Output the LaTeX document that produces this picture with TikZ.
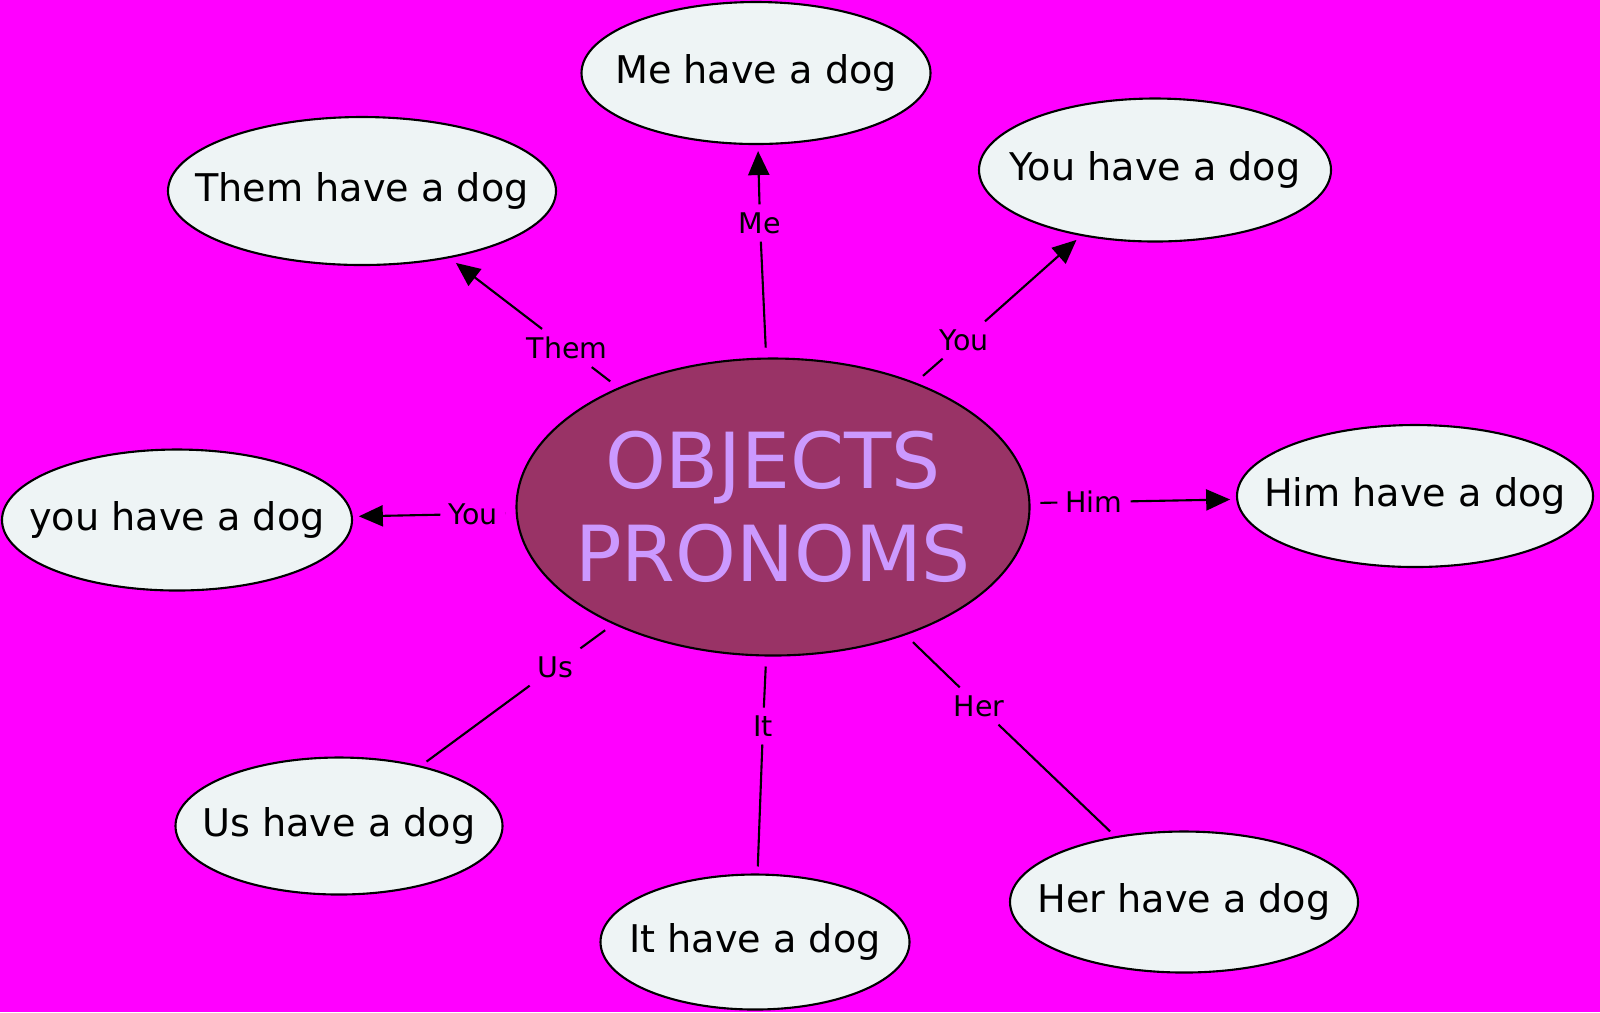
\documentclass[tikz,border=0pt]{standalone}
\usepackage{fontspec}
\setmainfont{DejaVu Sans}
\usetikzlibrary{arrows.meta,shapes.geometric}
\definecolor{bg_magenta}{RGB}{255,0,255}
\definecolor{node_plum}{RGB}{153,51,102}
\definecolor{text_lilac}{RGB}{204,153,255}
\definecolor{node_ice}{RGB}{238,244,245}

\begin{document}
\begin{tikzpicture}[line width=0.6pt,>={Triangle[length=0.24cm,width=0.21cm]}]
    \tikzstyle{leaf}=[draw=black, ellipse, fill=node_ice, inner sep=0pt]
    \tikzstyle{leaftext}=[font=\fontsize{10.86}{13}\selectfont, text=black]
    \tikzstyle{centre}=[draw=black, ellipse, fill=node_plum, inner sep=0pt, minimum width=5.13cm, minimum height=2.97cm]
    \tikzstyle{centretext}=[font=\fontsize{22}{26.5}\selectfont, text=text_lilac, align=center]
    \tikzstyle{pron}=[font=\fontsize{8.1}{9.7}\selectfont, text=black, inner sep=2pt]

    \useasboundingbox (0,0) rectangle (16,-10.12);
    \fill[bg_magenta] (0,0) rectangle (16,-10.12);

    \node[centre, label={[centretext]center:OBJECTS\\PRONOMS}] (c) at (7.73,-5.07) {};

    \node[leaf, minimum width=3.49cm, minimum height=1.42cm, label={[leaftext]center:Me have a dog}]   (me)   at (7.56,-0.73) {};
    \node[leaf, minimum width=3.52cm, minimum height=1.43cm, label={[leaftext]center:You have a dog}]  (youT) at (11.55,-1.70) {};
    \node[leaf, minimum width=3.88cm, minimum height=1.48cm, label={[leaftext]center:Them have a dog}] (them) at (3.62,-1.91) {};
    \node[leaf, minimum width=3.50cm, minimum height=1.41cm, label={[leaftext]center:you have a dog}]  (youL) at (1.77,-5.20) {};
    \node[leaf, minimum width=3.56cm, minimum height=1.42cm, label={[leaftext]center:Him have a dog}]  (him)  at (14.15,-4.96) {};
    \node[leaf, minimum width=3.27cm, minimum height=1.37cm, label={[leaftext]center:Us have a dog}]   (us)   at (3.39,-8.26) {};
    \node[leaf, minimum width=3.09cm, minimum height=1.35cm, label={[leaftext]center:It have a dog}]   (it)   at (7.55,-9.42) {};
    \node[leaf, minimum width=3.48cm, minimum height=1.41cm, label={[leaftext]center:Her have a dog}]  (her)  at (11.84,-9.02) {};

    \node[pron] (lThem) at (5.67,-3.48) {Them};
    \node[pron] (lMe)   at (7.60,-2.23) {Me};
    \node[pron] (lYouT) at (9.64,-3.40) {You};
    \node[pron] (lHim)  at (10.94,-5.02) {Him};
    \node[pron] (lYouL) at (4.73,-5.14) {You};
    \node[pron] (lUs)   at (5.55,-6.67) {Us};
    \node[pron] (lIt)   at (7.63,-7.26) {It};
    \node[pron] (lHer)  at (9.79,-7.06) {Her};

    \path[draw]
     (c) edge[shorten <=0.1cm] (lThem)
     (lThem) edge[->, shorten >=0.08cm] (them)
     (c) edge[shorten <=0.1cm] (lMe)
     (lMe) edge[->, shorten >=0.06cm] (me)
     (c) edge[shorten <=0.1cm] (lYouT)
     (lYouT) edge[->, shorten >=0.06cm] (youT)
     (c) edge[shorten <=0.1cm] (lHim)
     (lHim) edge[->, shorten >=0.06cm] (him)
     (c) edge[shorten <=0.1cm] (lYouL)
     (lYouL) edge[->, shorten >=0.06cm] (youL)
     (c) edge[shorten <=0.1cm] (lUs)
     (lUs) edge[shorten >=0.07cm] (us)
     (c) edge[shorten <=0.1cm] (lIt)
     (lIt) edge[shorten >=0.07cm] (it)
     (c) edge[shorten <=0.1cm] (lHer)
     (lHer) edge[shorten >=0.07cm] (her)
     ;
\end{tikzpicture}
\end{document}
